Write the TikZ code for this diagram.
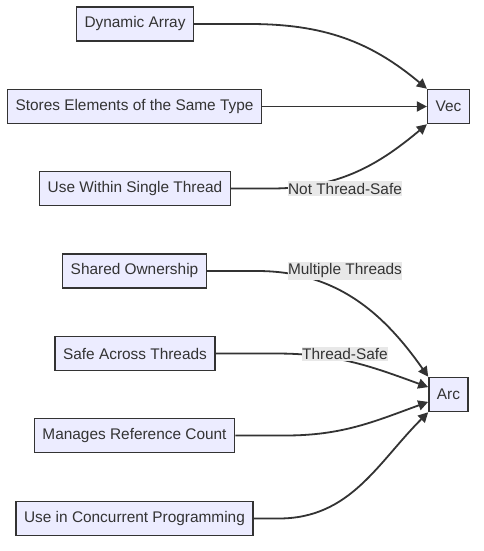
\documentclass[tikz,border=0pt]{standalone}
\usepackage{fontspec}
\setmainfont{Liberation Sans}
\definecolor{boxfill}{RGB}{236, 236, 255}
\definecolor{inkgray}{RGB}{51, 51, 51}
\definecolor{labelgray}{RGB}{232, 232, 232}
\usepackage{tikz}
\usetikzlibrary{arrows.meta, positioning}
\tikzset{
  box/.style={draw=inkgray, fill=boxfill, line width=1.5pt, minimum height=34pt, inner xsep=8pt, font=\fontsize{15.4}{18}\selectfont, text=inkgray},
  edgelbl/.style={fill=labelgray, inner xsep=0.5pt, inner ysep=1.5pt, font=\fontsize{15.4}{18}\selectfont, text=inkgray},
  edge/.style={-{Triangle[length=10pt, width=10pt]}, line width=1.8pt, draw=inkgray},
}

\begin{document}
\begin{tikzpicture}[x=1pt, y=1pt]
  \useasboundingbox (0,0) rectangle (484,-551);

  % Vec and its properties
  \node[box] (dyn) at (135, -24) {Dynamic Array};
  \node[box] (same) at (134.5, -106.5) {Stores Elements of the Same Type};
  \node[box] (single) at (135, -188.5) {Use Within Single Thread};
  \node[box] (vec) at (448.5, -106.5) {Vec};

  % Arc and its properties
  \node[box] (shared) at (134.5, -271) {Shared Ownership};
  \node[box] (safe) at (135, -353.5) {Safe Across Threads};
  \node[box] (refcount) at (134.5, -435.5) {Manages Reference Count};
  \node[box] (concur) at (134.5, -518.5) {Use in Concurrent Programming};
  \node[box] (arc) at (448.5, -394.5) {Arc};

  % Edges into Vec
  \draw[edge] (dyn.east) -- ++(55,0) to[out=0, in=140] (vec.north west);
  \draw[edge] (same.east) -- (vec.west);
  \draw[edge] (single.east) -- ++(40,0) to[out=0, in=220] (vec.south west);

  % Edges into Arc
  \draw[edge] (shared.east) -- ++(50,0) to[out=0, in=125] (arc.north west);
  \draw[edge] (safe.east) -- ++(60,0) to[out=0, in=160] (arc.160);
  \draw[edge] (refcount.east) -- ++(50,0) to[out=0, in=200] (arc.200);
  \draw[edge] (concur.east) -- ++(25,0) to[out=0, in=225] (arc.south west);

  % Edge labels
  \node[edgelbl] (notsafe) at (345, -188.5) {Not Thread-Safe};
  \node[edgelbl] (multi) at (345, -271) {Multiple Threads};
  \node[edgelbl] (tsafe) at (345, -354) {Thread-Safe};
\end{tikzpicture}
\end{document}
